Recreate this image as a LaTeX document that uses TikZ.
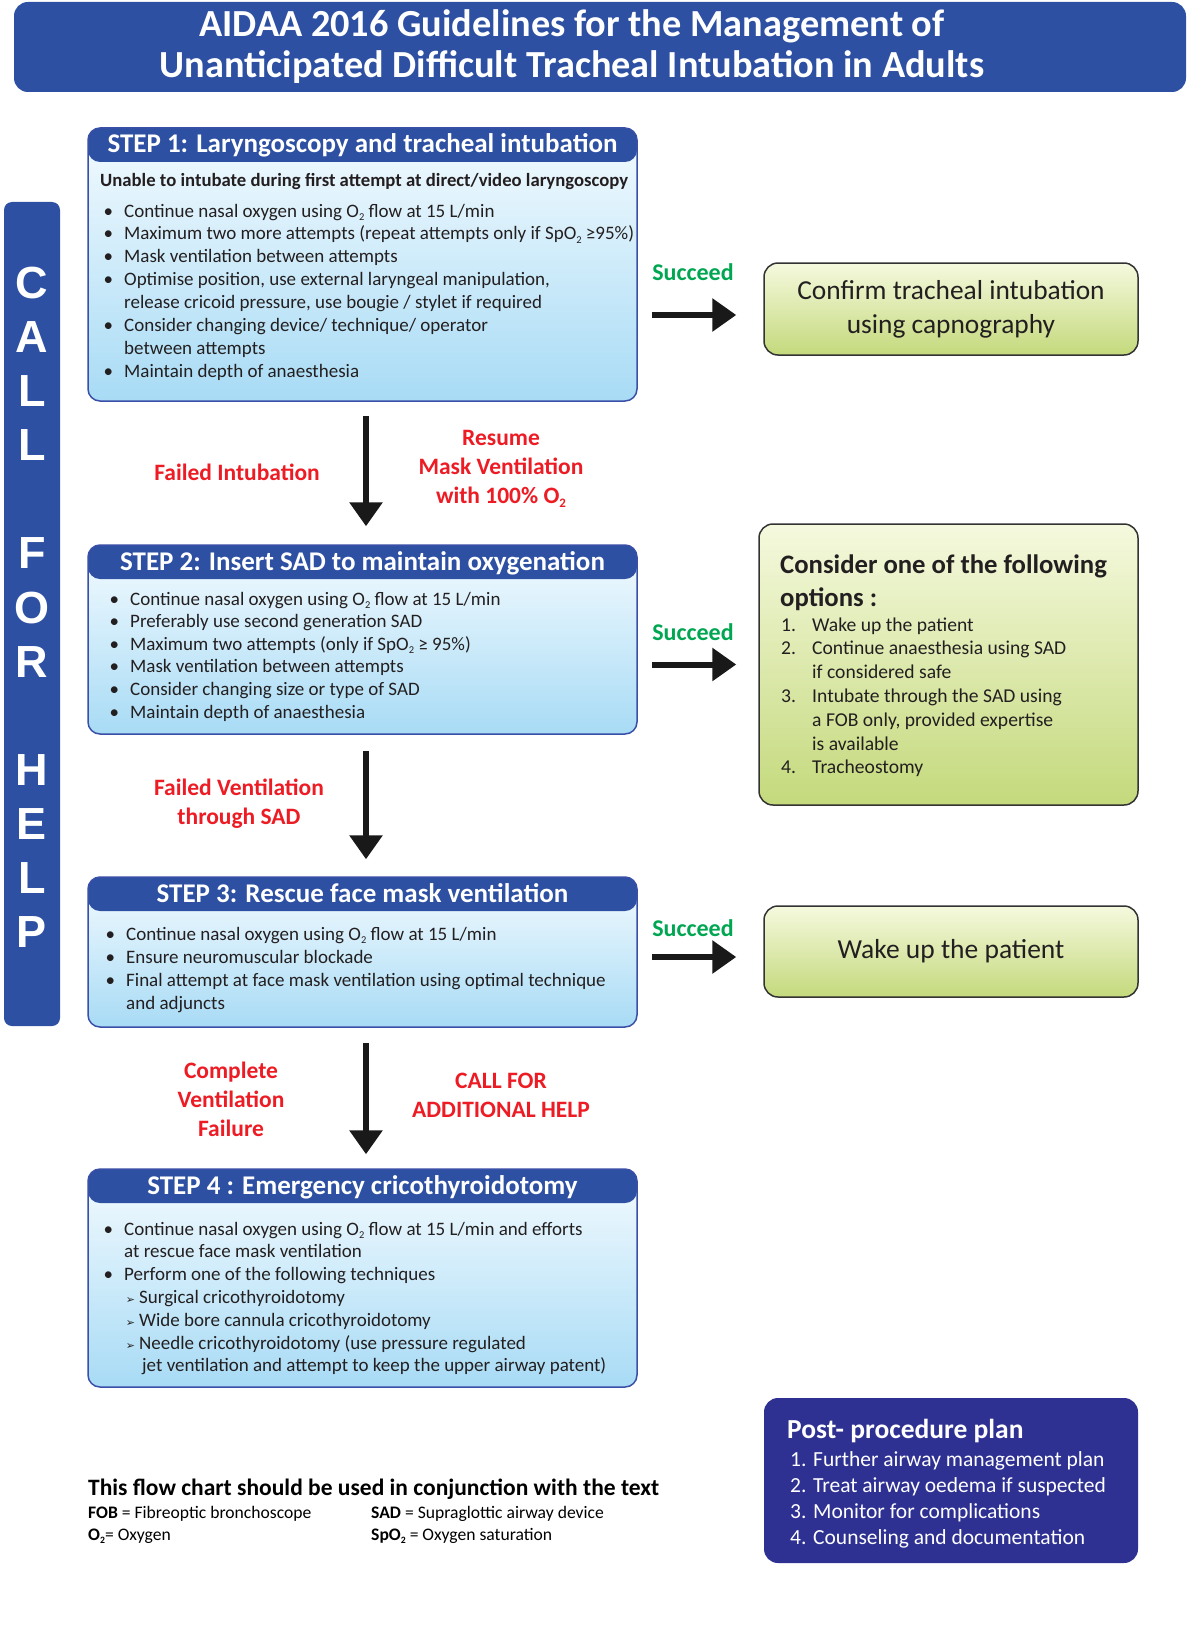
\documentclass[tikz,border=0pt]{standalone}
\usepackage{fontspec}
\setmainfont{Carlito}
\newfontfamily\cfhfont{Liberation Sans}
\newfontfamily\dvfont{DejaVu Sans}
\usetikzlibrary{
    arrows.meta,
    calc,
    positioning
}

\definecolor{aidaablue}{HTML}{2D50A2}
\definecolor{stepline}{HTML}{3A4FA8}
\definecolor{bodytop}{HTML}{F4FBFF}
\definecolor{bodybot}{HTML}{A8DBF5}
\definecolor{greentop}{HTML}{F5F9DE}
\definecolor{greenbot}{HTML}{C4D97C}
\definecolor{postblue}{HTML}{2E3192}
\definecolor{succgreen}{HTML}{00A651}
\definecolor{failred}{HTML}{ED1C24}
\definecolor{bodyink}{HTML}{231F20}

\newcommand{\stepbullet}{\llap{\textbullet\hspace{11pt}}}
\newcommand{\subarrow}{\llap{{\dvfont\fontsize{11}{11}\selectfont ➢}\hspace{4pt}}}
\newcommand{\Otwo}{O\raisebox{-0.35ex}{\scalebox{0.55}{2}}}
\newcommand{\optnum}[1]{\makebox[31pt][l]{#1}}
\newcommand{\postnum}[1]{\makebox[23pt][l]{#1}}

\tikzset{
    stepbox/.style={rounded corners=12pt, draw=stepline, line width=1.5pt,
        top color=bodytop, bottom color=bodybot, minimum width=549pt, inner sep=0pt,
        path picture={\fill[aidaablue] ([yshift=2pt]path picture bounding box.north west)
            rectangle ([yshift=-34pt]path picture bounding box.north east);}},
    greenbox/.style={rounded corners=14pt, draw=black!80, line width=1.5pt,
        top color=greentop, bottom color=greenbot, inner sep=0pt},
    bluebar/.style={rounded corners=14pt, fill=aidaablue, inner sep=0pt},
    hdtext/.style={anchor=base, inner sep=0pt, text=white, font=\bfseries\fontsize{27}{27}\selectfont},
    bodyline/.style={anchor=base west, inner sep=0pt, text=bodyink, font=\fontsize{19}{19}\selectfont},
    succtext/.style={inner sep=0pt, text=succgreen, font=\bfseries\fontsize{24}{24}\selectfont},
    failtext/.style={inner sep=0pt, text=failred, align=center, font=\bfseries\fontsize{23.5}{29}\selectfont},
    cfhletter/.style={inner sep=0pt, text=white, font=\cfhfont\bfseries\fontsize{45}{45}\selectfont},
    bigarrow/.style={line width=6pt, draw=black!90, -{Triangle[length=24pt,width=32pt]}}
}

\begin{document}
\begin{tikzpicture}[x=1pt, y=-1pt]
    \fill[white] (0,0) rectangle (1200,1648);
    \useasboundingbox (0,0) rectangle (1200,1648);

    % title and side bar
    \node[bluebar, minimum width=1172pt, minimum height=90pt] (title) at (600,47) {};
    \node[align=center, text=white, font=\bfseries\fontsize{38.3}{41}\selectfont] (titletxt) at (572,47)
        {AIDAA 2016 Guidelines for the Management of\\Unanticipated Difficult Tracheal Intubation in Adults};
    \node[bluebar, rounded corners=8pt, minimum width=56pt, minimum height=824pt] (cfhbar) at (32,614) {};
    \foreach \ch/\k in {C/0,A/1,L/2,L/3,F/5,O/6,R/7,H/9,E/10,L/11,P/12}
        \node[cfhletter] (cfh-\k) at (32, 283+54.1*\k) {\ch};

    % step 1
    \node[stepbox, minimum height=273pt] (step1) at (362.5,264.5) {};
    \node[hdtext] (step1hd) at (362.5,153) {STEP 1: Laryngoscopy and tracheal intubation};
    \node[bodyline, font=\bfseries\fontsize{18.7}{18.7}\selectfont] (step1sub) at (100,186)
        {Unable to intubate during first attempt at direct/video laryngoscopy};
    \foreach \txt [count=\i from 0] in {
        {\stepbullet Continue nasal oxygen using \Otwo{} flow at 15 L/min},
        {\stepbullet Maximum two more attempts (repeat attempts only if Sp\Otwo{} ≥95\%)},
        {\stepbullet Mask ventilation between attempts},
        {\stepbullet Optimise position, use external laryngeal manipulation,},
        {release cricoid pressure, use bougie / stylet if required},
        {\stepbullet Consider changing device/ technique/ operator},
        {between attempts},
        {\stepbullet Maintain depth of anaesthesia}}
        \node[bodyline] (step1-\i) at (124, 217+22.86*\i) {\txt};

    % step 2
    \node[stepbox, minimum height=189pt] (step2) at (362.5,639.5) {};
    \node[hdtext] (step2hd) at (362.5,570) {STEP 2: Insert SAD to maintain oxygenation};
    \foreach \txt [count=\i from 0] in {
        {\stepbullet Continue nasal oxygen using \Otwo{} flow at 15 L/min},
        {\stepbullet Preferably use second generation SAD},
        {\stepbullet Maximum two attempts (only if Sp\Otwo{} ≥ 95\%)},
        {\stepbullet Mask ventilation between attempts},
        {\stepbullet Consider changing size or type of SAD},
        {\stepbullet Maintain depth of anaesthesia}}
        \node[bodyline] (step2-\i) at (130, 605+22.6*\i) {\txt};

    % step 3
    \node[stepbox, minimum height=150pt] (step3) at (362.5,952) {};
    \node[hdtext] (step3hd) at (362.5,902) {STEP 3: Rescue face mask ventilation};
    \foreach \txt [count=\i from 0] in {
        {\stepbullet Continue nasal oxygen using \Otwo{} flow at 15 L/min},
        {\stepbullet Ensure neuromuscular blockade},
        {\stepbullet Final attempt at face mask ventilation using optimal technique},
        {and adjuncts}}
        \node[bodyline] (step3-\i) at (126, 940+23*\i) {\txt};

    % step 4
    \node[stepbox, minimum height=218pt] (step4) at (362.5,1278) {};
    \node[hdtext] (step4hd) at (362.5,1194) {STEP 4 : Emergency cricothyroidotomy};
    \foreach \txt [count=\i from 0] in {
        {\stepbullet Continue nasal oxygen using \Otwo{} flow at 15 L/min and efforts},
        {at rescue face mask ventilation},
        {\stepbullet Perform one of the following techniques},
        {\hspace*{15pt}\subarrow Surgical cricothyroidotomy},
        {\hspace*{15pt}\subarrow Wide bore cannula cricothyroidotomy},
        {\hspace*{15pt}\subarrow Needle cricothyroidotomy (use pressure regulated},
        {\hspace*{18pt}jet ventilation and attempt to keep the upper airway patent)}}
        \node[bodyline] (step4-\i) at (124, 1235+22.8*\i) {\txt};

    % outcome boxes
    \node[greenbox, minimum width=374pt, minimum height=92pt] (conf) at (951,309) {};
    \node[align=center, text=bodyink, font=\fontsize{27.4}{34}\selectfont] (conftxt) at (951,309)
        {Confirm tracheal intubation\\using capnography};
    \node[greenbox, minimum width=379pt, minimum height=281pt] (opts) at (948.5,664.5) {};
    \node[bodyline, font=\bfseries\fontsize{26.7}{26.7}\selectfont] (optshd-0) at (780,573) {Consider one of the following};
    \node[bodyline, font=\bfseries\fontsize{26.7}{26.7}\selectfont] (optshd-1) at (780,606) {options :};
    \foreach \txt [count=\i from 0] in {
        {\optnum{1.}Wake up the patient},
        {\optnum{2.}Continue anaesthesia using SAD},
        {\hspace*{31pt}if considered safe},
        {\optnum{3.}Intubate through the SAD using},
        {\hspace*{31pt}a FOB only, provided expertise},
        {\hspace*{31pt}is available},
        {\optnum{4.}Tracheostomy}}
        \node[bodyline, font=\fontsize{19.6}{19.6}\selectfont] (opts-\i) at (781, 631+23.8*\i) {\txt};
    \node[greenbox, minimum width=374pt, minimum height=91pt] (wake) at (951,951.5) {};
    \node[text=bodyink, font=\fontsize{27.5}{27.5}\selectfont] (waketxt) at (951,951.5) {Wake up the patient};

    % arrows
    \draw[bigarrow, shorten <=14pt, shorten >=18pt] ([xshift=3.5pt]step1.south) -- ([xshift=3.5pt]step2.north);
    \draw[bigarrow, shorten <=16pt, shorten >=17pt] ([xshift=3.5pt]step2.south) -- ([xshift=3.5pt]step3.north);
    \draw[bigarrow, shorten <=15pt, shorten >=14pt] ([xshift=3.5pt]step3.south) -- ([xshift=3.5pt]step4.north);
    \draw[bigarrow, shorten <=14pt, shorten >=27pt] ($(step1.east |- conf.west)+(0,6)$) -- ($(conf.west)+(0,6)$);
    \draw[bigarrow, shorten <=14pt, shorten >=22pt] (step2.east |- opts.west) -- (opts.west);
    \draw[bigarrow, shorten <=14pt, shorten >=27pt] ($(step3.east |- wake.west)+(0,5.5)$) -- ($(wake.west)+(0,5.5)$);

    % arrow labels
    \node[succtext] (succ1) at (693,272) {Succeed};
    \node[succtext] (succ2) at (693,632) {Succeed};
    \node[succtext] (succ3) at (693,928) {Succeed};
    \node[failtext] (fail1) at (237,472) {Failed Intubation};
    \node[failtext] (resume) at (501,469) {Resume\\Mask Ventilation\\with 100\% \Otwo};
    \node[failtext] (fail2) at (239,803.5) {Failed Ventilation\\through SAD};
    \node[failtext] (fail3) at (231,1099) {Complete\\Ventilation\\Failure};
    \node[failtext] (morehelp) at (501,1095) {CALL FOR\\ADDITIONAL HELP};

    % footnote
    \node[bodyline, text=black, font=\bfseries\fontsize{23.5}{23.5}\selectfont] (note) at (88,1495)
        {This flow chart should be used in conjunction with the text};
    \node[bodyline, text=black, font=\fontsize{17.6}{17.6}\selectfont] (fob) at (88,1518) {\textbf{FOB} = Fibreoptic bronchoscope};
    \node[bodyline, text=black, font=\fontsize{17.6}{17.6}\selectfont] (sad) at (371,1518) {\textbf{SAD} = Supraglottic airway device};
    \node[bodyline, text=black, font=\fontsize{17.6}{17.6}\selectfont] (oxy) at (88,1540) {\textbf{\Otwo}= Oxygen};
    \node[bodyline, text=black, font=\fontsize{17.6}{17.6}\selectfont] (spo) at (371,1540) {\textbf{Sp\Otwo} = Oxygen saturation};

    % post-procedure plan
    \node[bluebar, fill=postblue, minimum width=374pt, minimum height=165pt] (post) at (951,1480.5) {};
    \node[bodyline, text=white, font=\bfseries\fontsize{27.5}{27.5}\selectfont] (posthd) at (787,1438) {Post- procedure plan};
    \foreach \txt [count=\i from 0] in {
        {\postnum{1.}Further airway management plan},
        {\postnum{2.}Treat airway oedema if suspected},
        {\postnum{3.}Monitor for complications},
        {\postnum{4.}Counseling and documentation}}
        \node[bodyline, text=white, font=\fontsize{21.5}{21.5}\selectfont] (post-\i) at (790, 1466+26*\i) {\txt};
\end{tikzpicture}
\end{document}
